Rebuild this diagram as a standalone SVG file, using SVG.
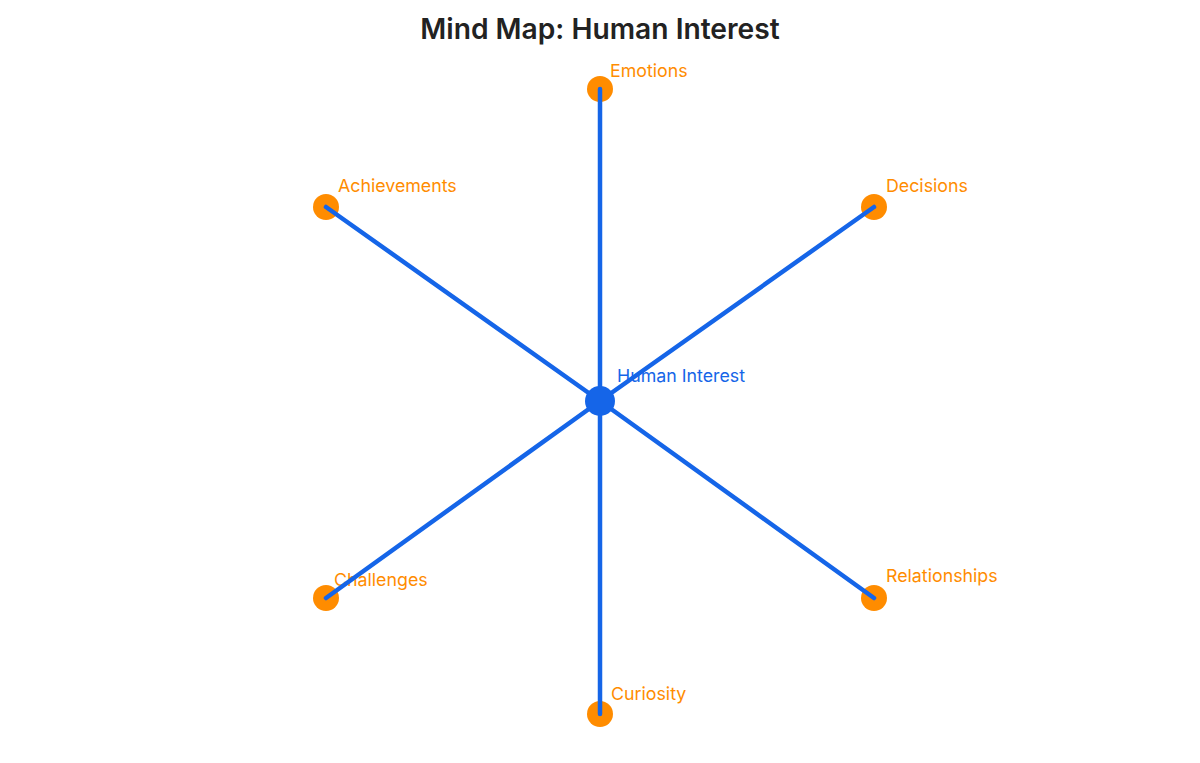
<svg xmlns="http://www.w3.org/2000/svg" width="1200" height="763" viewBox="0 0 1200 763">
<style>
.title{font-family:"Inter","Liberation Sans",sans-serif;font-weight:600;font-size:28.2px;fill:#222222}
.lbl{font-family:"Inter","Liberation Sans",sans-serif;font-size:17.8px;fill:#ff8c00}
.clbl{font-family:"Inter","Liberation Sans",sans-serif;font-size:17.8px;fill:#1565e8}
.leaf{fill:#ff8c00}
.root{fill:#1565e8}
.edge{stroke:#1565e8;stroke-width:4.5;stroke-linecap:round;fill:none}
</style>
<rect width="1200" height="763" fill="#ffffff"/>
<text class="title" x="600" y="39" text-anchor="middle">Mind Map: Human Interest</text>
<g id="n-emotions"><circle class="leaf" cx="600" cy="89" r="13"/><text class="lbl" x="610" y="77">Emotions</text></g>
<g id="n-decisions"><circle class="leaf" cx="874" cy="207" r="13"/><text class="lbl" x="886" y="192">Decisions</text></g>
<g id="n-relationships"><circle class="leaf" cx="874" cy="598" r="13"/><text class="lbl" x="886" y="582">Relationships</text></g>
<g id="n-curiosity"><circle class="leaf" cx="600" cy="714" r="13"/><text class="lbl" x="611" y="700">Curiosity</text></g>
<g id="n-challenges"><circle class="leaf" cx="326" cy="598" r="13"/><text class="lbl" x="334" y="586">Challenges</text></g>
<g id="n-achievements"><circle class="leaf" cx="326" cy="207" r="13"/><text class="lbl" x="338" y="192">Achievements</text></g>
<g id="connectors">
<line class="edge" x1="600" y1="401" x2="600" y2="89"/>
<line class="edge" x1="600" y1="401" x2="874" y2="207"/>
<line class="edge" x1="600" y1="401" x2="874" y2="598"/>
<line class="edge" x1="600" y1="401" x2="600" y2="714"/>
<line class="edge" x1="600" y1="401" x2="326" y2="598"/>
<line class="edge" x1="600" y1="401" x2="326" y2="207"/>
</g>
<g id="n-root"><circle class="root" cx="600" cy="401" r="15"/><text class="clbl" x="617" y="382">Human Interest</text></g>
</svg>
